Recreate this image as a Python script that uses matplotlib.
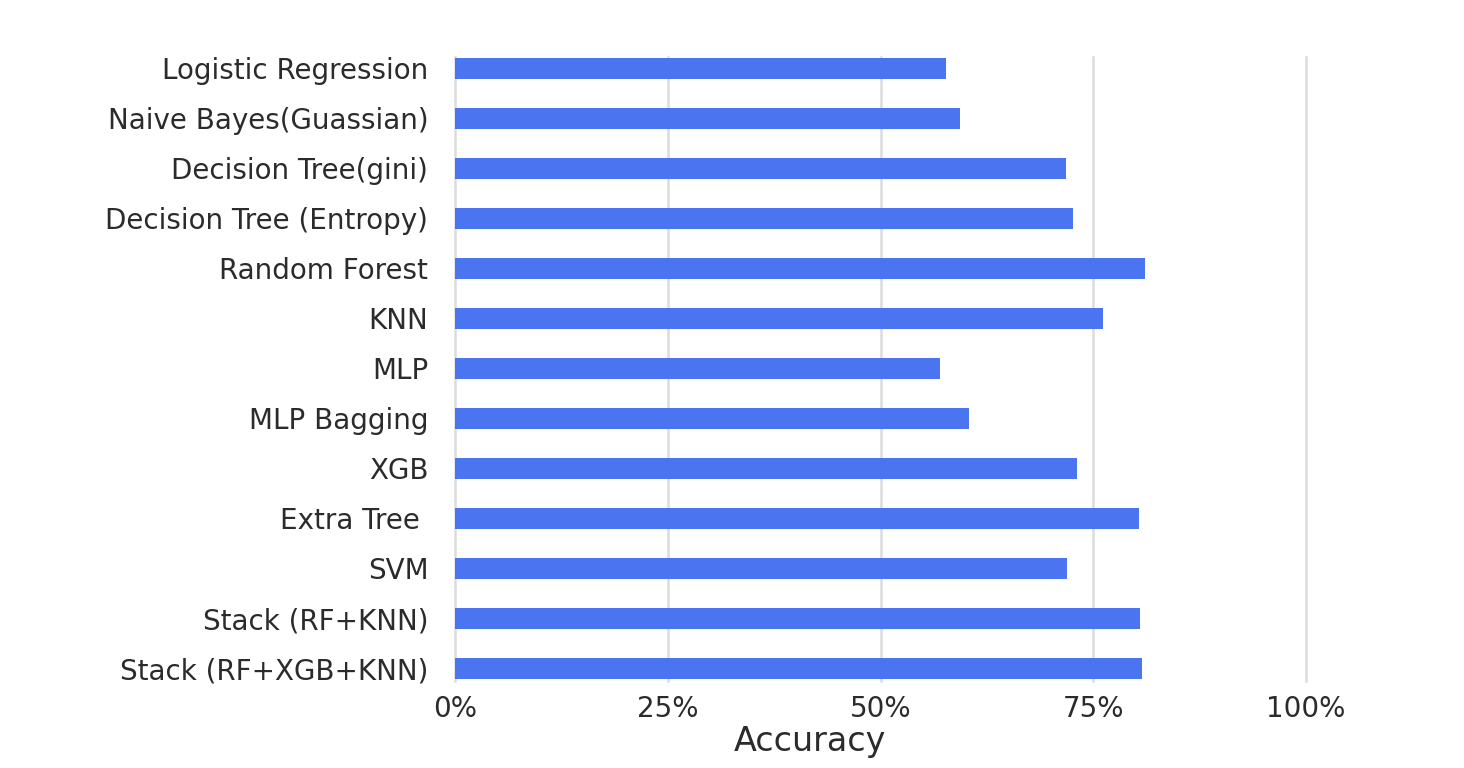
import matplotlib
matplotlib.use("Agg")
import matplotlib.pyplot as plt
from matplotlib.ticker import PercentFormatter

models = ["Logistic Regression", "Naive Bayes(Guassian)", "Decision Tree(gini)",
          "Decision Tree (Entropy)", "Random Forest", "KNN", "MLP", "MLP Bagging",
          "XGB", "Extra Tree ", "SVM", "Stack (RF+KNN)", "Stack (RF+XGB+KNN)"]
accuracy = [0.5765, 0.593, 0.718, 0.7266, 0.811, 0.761, 0.570, 0.604,
            0.7313, 0.804, 0.7195, 0.8055, 0.8077]
xticks = [0, 0.25, 0.5, 0.75, 1.0]

plt.rcParams['font.family'] = ['DejaVu Sans']
fig = plt.figure(figsize=(14.64, 7.68), dpi=100)
ax = fig.add_axes([0.3111, 0.1133, 0.5808, 0.8125])

y = list(range(len(models)))
ax.barh(y, accuracy, height=0.43, color="#4A74F0", zorder=3)
ax.set_yticks(y)
ax.set_yticklabels(models)
ax.set_ylim(12.25, -0.23)
ax.set_xlim(0, 1.0)
ax.set_xticks(xticks)
ax.xaxis.set_major_formatter(PercentFormatter(1.0, decimals=0))
ax.grid(axis="x", color="#dcdcdc", linewidth=1.8, zorder=0)
for gl in ax.get_xgridlines():
    gl.set_clip_on(False)
for s in ax.spines.values():
    s.set_visible(False)
ax.tick_params(axis="both", length=0, labelsize=20, colors="#2b2b2b")
ax.tick_params(axis="y", pad=19.5)
ax.tick_params(axis="x", pad=10)
ax.set_xlabel("Accuracy", fontsize=24, color="#2b2b2b", labelpad=0)
ax.xaxis.set_label_coords(0.417, -0.07)

fig.savefig("out.png", dpi=100, facecolor="white")
